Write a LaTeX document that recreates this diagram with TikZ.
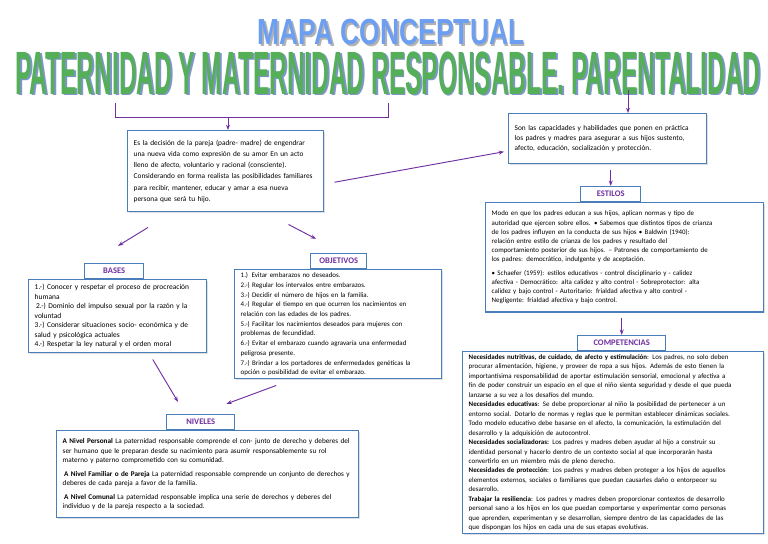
\documentclass[tikz,border=0pt]{standalone}
\usepackage{fontspec}
\setmainfont{Carlito}
\newfontfamily\titlefont{Liberation Sans}
\usepackage{graphicx}
\usepackage{pdfrender}
\usetikzlibrary{arrows.meta, positioning, shadows}
\definecolor{boxblue}{HTML}{4A7EBB}
\definecolor{linkpurple}{HTML}{7030A0}
\definecolor{titlegreen}{HTML}{55AE58}
\definecolor{titlegreenedge}{HTML}{3C8C40}
\definecolor{titleblue}{HTML}{6C9EF2}
\definecolor{titleedge}{HTML}{2A4FA8}
\tikzset{
    infoBox/.style={draw=boxblue, line width=1.1pt, fill=white, anchor=north west, inner xsep=4.5pt, inner ysep=2pt, align=left,
        font=\fontsize{5.2}{7.1}\selectfont, drop shadow={shadow xshift=0.8pt, shadow yshift=-0.8pt, opacity=0.25}},
    tabBox/.style={draw=boxblue, line width=1.1pt, fill=white, anchor=south west, inner sep=0pt, minimum height=11pt,
        font=\fontsize{6.4}{7}\selectfont\bfseries, text=linkpurple},
    link/.style={-{Stealth[length=4pt, width=3pt]}, linkpurple, line width=0.7pt},
    bracketLine/.style={linkpurple, line width=0.7pt}
}
\newcommand{\maptitle}[2]{\resizebox{200pt}{19pt}{\titlefont\bfseries\color{#2}%
    \textpdfrender{TextRenderingMode=2, LineWidth=0.35, StrokeColor=#1}{MAPA CONCEPTUAL}}}
\newcommand{\maintitle}[2]{\resizebox{559pt}{32pt}{\titlefont\bfseries\color{#2}%
    \textpdfrender{TextRenderingMode=2, LineWidth=0.25, StrokeColor=#1}{PATERNIDAD Y MATERNIDAD RESPONSABLE. PARENTALIDAD}}}

\begin{document}
\begin{tikzpicture}[x=0.75pt, y=-0.75pt]
    \useasboundingbox (0,0) rectangle (768,543);

    % titles
    \node[xshift=1.2pt, yshift=-1.2pt] (mapShadow) at (391,32) {\maptitle{black!30}{black!30}};
    \node (mapTitle) at (391,32) {\maptitle{titleedge}{titleblue}};
    \node[xshift=1.4pt, yshift=-1.4pt] (mainShadow) at (388,73) {\maintitle{titleedge!60}{titleedge!60}};
    \node (mainTitle) at (388,73) {\maintitle{titlegreenedge}{titlegreen}};

    % concept boxes
    \node[infoBox, minimum width=147pt, minimum height=60.75pt, text width=138pt,
        font=\fontsize{5.5}{8.4}\selectfont] (defBox) at (127,130)
        {Es la decisión de la pareja (padre- madre) de engendrar\\
         una nueva vida como expresión de su amor En un acto\\
         lleno de afecto, voluntario y racional (consciente).\\
         Considerando en forma realista las posibilidades familiares\\
         para recibir, mantener, educar y amar a esa nueva\\
         persona que será tu hijo.};
    \node[infoBox, minimum width=148.5pt, minimum height=37.5pt, text width=139.5pt,
        font=\fontsize{5.5}{7.6}\selectfont] (capBox) at (508,113)
        {Son las capacidades y habilidades que ponen en práctica\\
         los padres y madres para asegurar a sus hijos sustento,\\
         afecto, educación, socialización y protección.};
    \node[infoBox, minimum width=208.5pt, minimum height=82pt, text width=199.5pt,
        font=\fontsize{5.2}{6.9}\selectfont] (estilosBox) at (485,202)
        {Modo en que los padres educan a sus hijos, aplican normas y tipo de\\
         autoridad que ejercen sobre ellos. • Sabemos que distintos tipos de crianza\\
         de los padres influyen en la conducta de sus hijos • Baldwin (1940):\\
         relación entre estilo de crianza de los padres y resultado del\\
         comportamiento posterior de sus hijos. – Patrones de comportamiento de\\
         los padres: democrático, indulgente y de aceptación.\\[3pt]
         • Schaefer (1959): estilos educativos - control disciplinario y - calidez\\
         afectiva - Democrático: alta calidez y alto control - Sobreprotector: alta\\
         calidez y bajo control - Autoritario: frialdad afectiva y alto control -\\
         Negligente: frialdad afectiva y bajo control.};
    \node[infoBox, minimum width=225.75pt, minimum height=136.5pt, text width=216.75pt] (competBox) at (462,351)
        {\textbf{Necesidades nutritivas, de cuidado, de afecto y estimulación}: Los padres, no solo deben\\
         procurar alimentación, higiene, y proveer de ropa a sus hijos. Además de esto tienen la\\
         importantísima responsabilidad de aportar estimulación sensorial, emocional y afectiva a\\
         fin de poder construir un espacio en el que el niño sienta seguridad y desde el que pueda\\
         lanzarse a su vez a los desafíos del mundo.\\
         \textbf{Necesidades educativas}: Se debe proporcionar al niño la posibilidad de pertenecer a un\\
         entorno social. Dotarlo de normas y reglas que le permitan establecer dinámicas sociales.\\
         Todo modelo educativo debe basarse en el afecto, la comunicación, la estimulación del\\
         desarrollo y la adquisición de autocontrol.\\
         \textbf{Necesidades socializadoras:} Los padres y madres deben ayudar al hijo a construir su\\
         identidad personal y hacerlo dentro de un contexto social al que incorporarán hasta\\
         convertirlo en un miembro más de pleno derecho.\\
         \textbf{Necesidades de protección}: Los padres y madres deben proteger a los hijos de aquellos\\
         elementos externos, sociales o familiares que puedan causarles daño o entorpecer su\\
         desarrollo.\\
         \textbf{Trabajar la resiliencia}: Los padres y madres deben proporcionar contextos de desarrollo\\
         personal sano a los hijos en los que puedan comportarse y experimentar como personas\\
         que aprenden, experimentan y se desarrollan, siempre dentro de las capacidades de las\\
         que dispongan los hijos en cada una de sus etapas evolutivas.};
    \node[infoBox, minimum width=133.5pt, minimum height=54.75pt, text width=124.5pt,
        font=\fontsize{5.6}{7.1}\selectfont] (basesBox) at (28,279)
        {1.-) Conocer y respetar el proceso de procreación\\
         humana\\
         \hspace{1pt}2.-) Dominio del impulso sexual por la razón y la\\
         voluntad\\
         3.-) Considerar situaciones socio- económica y de\\
         salud y psicológica actuales\\
         4.-) Respetar la ley natural y el orden moral};
    \node[infoBox, minimum width=155.25pt, minimum height=81.75pt, text width=146.25pt,
        font=\fontsize{5.2}{7.3}\selectfont] (objBox) at (234,269)
        {1.) Evitar embarazos no deseados.\\
         2.-) Regular los intervalos entre embarazos.\\
         3.-) Decidir el número de hijos en la familia.\\
         4.-) Regular el tiempo en que ocurren los nacimientos en\\
         relación con las edades de los padres.\\
         5.-) Facilitar los nacimientos deseados para mujeres con\\
         problemas de fecundidad.\\
         6.-) Evitar el embarazo cuando agravaría una enfermedad\\
         peligrosa presente.\\
         7.-) Brindar a los portadores de enfermedades genéticas la\\
         opción o posibilidad de evitar el embarazo.};
    \node[infoBox, minimum width=226.5pt, minimum height=65.25pt, text width=217.5pt,
        font=\fontsize{5.4}{7.1}\selectfont] (nivelesBox) at (56,430)
        {\textbf{A Nivel Personal} La paternidad responsable comprende el con- junto de derecho y deberes del\\
         ser humano que le preparan desde su nacimiento para asumir responsablemente su rol\\
         materno y paterno comprometido con su comunidad.\\[3pt]
         \hspace{1pt}\textbf{A Nivel Familiar o de Pareja} La paternidad responsable comprende un conjunto de derechos y\\
         deberes de cada pareja a favor de la familia.\\[3pt]
         \hspace{1pt}\textbf{A Nivel Comunal} La paternidad responsable implica una serie de derechos y deberes del\\
         individuo y de la pareja respecto a la sociedad.};

    % label tabs
    \node[tabBox, minimum width=45pt] (estilosTab) at (580,202) {ESTILOS};
    \node[tabBox, minimum width=66pt] (competTab) at (577,351) {COMPETENCIAS};
    \node[tabBox, minimum width=44.25pt] (basesTab) at (84,279) {BASES};
    \node[tabBox, minimum width=42pt] (objTab) at (310,269) {OBJETIVOS};
    \node[tabBox, minimum width=51pt] (nivelesTab) at (166,430) {NIVELES};

    % connectors
    \coordinate (brL) at (115,103);
    \coordinate (brR) at (388,103);
    \coordinate (brMid) at (228,117);
    \coordinate (capIn) at (628,90);
    \draw[bracketLine] (brL) -- ++(0,14) -| (brR);
    \draw[link] (brMid) -- (brMid |- defBox.north);
    \draw[link] (capIn) -- (capIn |- capBox.north);
    \draw[link] ([shift={(10,11)}]defBox.east) -- ([shift={(-4,13)}]capBox.west);
    \draw[link, shorten <=4pt] (capBox.south -| estilosTab.north) -- (estilosTab.north);
    \draw[link, shorten <=4pt] (estilosBox.south -| competTab.north) -- (competTab.north);
    \draw[link] ([shift={(21,15)}]defBox.south west) -- ([shift={(34,-17)}]basesTab.north west);
    \draw[link] ([shift={(-36,12)}]defBox.south east) -- ([shift={(6,-14)}]objTab.north west);
    \draw[link] ([shift={(35,6)}]basesBox.south) -- ([shift={(12,-12)}]nivelesTab.north west);
    \draw[link] ([shift={(-62,6)}]objBox.south) -- ([shift={(-9,-10)}]nivelesTab.north east);
\end{tikzpicture}
\end{document}
